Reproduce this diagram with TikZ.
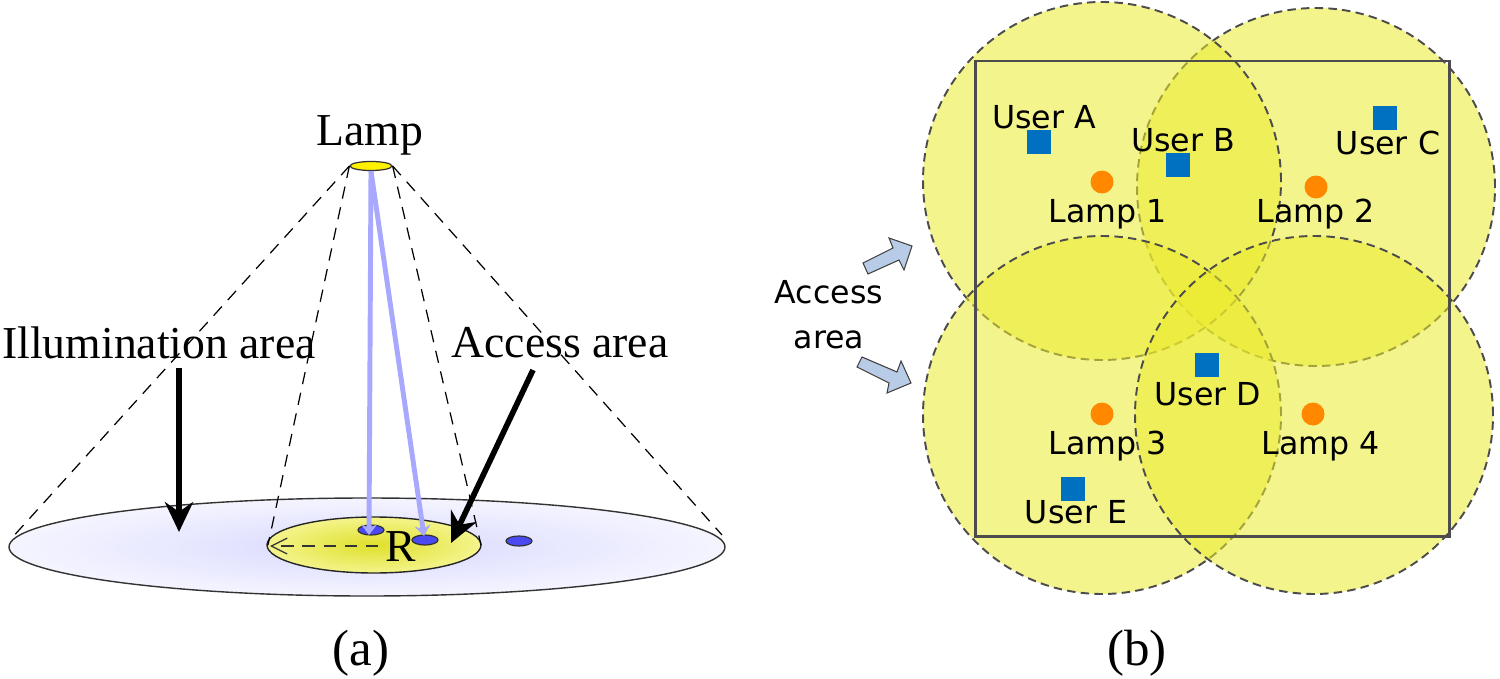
\documentclass[tikz,border=0pt]{standalone}
\usepackage{fontspec}
\setmainfont{Liberation Serif}
\newfontfamily\labelfont{DejaVu Sans}
\usetikzlibrary{positioning,shapes,arrows.meta}
\definecolor{beamblue}{HTML}{A8A8FF}
\definecolor{spotblue}{HTML}{4A4AF0}
\definecolor{cellyellow}{HTML}{EBEB2E}
\definecolor{userblue}{HTML}{0070C0}
\definecolor{lamporange}{HTML}{FF8800}
\definecolor{blockblue}{HTML}{B8CCE8}
\newcommand{\pxunit}{*.02cm}
\tikzset{
  cone/.style={dash pattern=on 7pt off 5pt,line width=.7pt},
  beam/.style={beamblue,line width=2.8pt,-{Stealth[length=6pt,width=9pt]}},
  pointer/.style={black,line width=3.2pt,-{Stealth[length=17pt,width=16pt]}},
  spot/.style={ellipse,draw=black!80,fill=spotblue,line width=.7pt,minimum width=26\pxunit,minimum height=10\pxunit,inner sep=0pt},
  serifnode/.style={font=\fontsize{26}{26}\selectfont,inner sep=0pt},
  capnode/.style={font=\fontsize{29}{29}\selectfont,inner sep=0pt},
  cell/.style={circle,draw=black!70,dash pattern=on 4.8pt off 3pt,line width=1.1pt,fill=cellyellow,fill opacity=.55,minimum size=358\pxunit,inner sep=0pt},
  usernode/.style={rectangle,fill=userblue,minimum size=24\pxunit,inner sep=0pt},
  lampnode/.style={circle,fill=lamporange,minimum size=23\pxunit,inner sep=0pt},
  tag/.style={font=\labelfont\fontsize{18}{18}\selectfont,inner sep=0pt},
  blockarrow/.style={draw=black!75,fill=blockblue,line width=.6pt}
}
\begin{document}
\begin{tikzpicture}[x=.02cm,y=-.02cm]
  \useasboundingbox (0,0) rectangle (1500,679);

  % left part
  \draw[black!80,line width=.8pt,inner color=blue!15!white,outer color=blue!4!white] (367,547) ellipse [x radius=358,y radius=49];
  \draw[black!85,line width=.8pt,inner color=cellyellow!95!black,outer color=cellyellow!55!white] (374,545) ellipse [x radius=107,y radius=28];
  \node[ellipse,draw=black!80,fill=yellow,line width=.7pt,minimum width=42\pxunit,minimum height=9\pxunit,inner sep=0pt] (lamp) at (371,166) {};
  \node[serifnode] (lamplabel) at (370,135) {Lamp};

  \coordinate (coneoutl) at (10,540);
  \coordinate (coneoutr) at (722,535);
  \coordinate (coneinl) at (268,545);
  \coordinate (coneinr) at (481,545);
  \draw[cone] (lamp.west) -- (coneoutl);
  \draw[cone] (lamp.east) -- (coneoutr);
  \draw[cone] (lamp.west) -- (coneinl);
  \draw[cone] (lamp.east) -- (coneinr);

  \node[spot] (spota) at (371,530) {};
  \node[spot] (spotb) at (425,540) {};
  \node[spot] (spotc) at (519,541) {};
  \coordinate (beamtipa) at (369,535);
  \coordinate (beamtipb) at (424,536);
  \draw[beam] (lamp.south) -- (beamtipa);
  \draw[beam] (lamp.south) -- (beamtipb);

  \node[serifnode] (rlabel) at (401,547) {R};
  \coordinate (redge) at (270,546);
  \draw[black!80,line width=.7pt,dash pattern=on 7pt off 5pt,-{Straight Barb[length=9pt,width=9pt]}] (378,546) -- (redge);

  \node[serifnode] (illum) at (159,343) {Illumination area};
  \node[serifnode] (access) at (560,343) {Access area};
  \coordinate (illumtip) at (179,532);
  \coordinate (accesstip) at (451,543);
  \draw[pointer] (179,368) -- (illumtip);
  \draw[pointer] (533,370) -- (accesstip);
  \node[capnode] (capa) at (361,653) {(a)};

  % right part
  \node[cell] (cellb) at (1316,187) {};
  \node[cell] (cella) at (1102,181) {};
  \node[cell] (cellc) at (1102,415) {};
  \node[cell] (celld) at (1314,415) {};
  \draw[black!70,line width=1.7pt] (975,61) rectangle (1449,536);

  \node[usernode] (usera) at (1039,142) {};
  \node[usernode] (userb) at (1178,165) {};
  \node[usernode] (userc) at (1385,118) {};
  \node[usernode] (userd) at (1207,365) {};
  \node[usernode] (usere) at (1073,489) {};
  \node[lampnode] (lampa) at (1102,182) {};
  \node[lampnode] (lampb) at (1316,187) {};
  \node[lampnode] (lampc) at (1102,414) {};
  \node[lampnode] (lampd) at (1313,414) {};

  \node[tag] at (1044,117) (tagusera) {User A};
  \node[tag] at (1183,140) (taguserb) {User B};
  \node[tag] at (1388,143) (taguserc) {User C};
  \node[tag] at (1208,394) (taguserd) {User D};
  \node[tag] at (1076,512) (tagusere) {User E};
  \node[tag] at (1108,214) (taglampa) {Lamp 1};
  \node[tag] at (1316,214) (taglampb) {Lamp 2};
  \node[tag] at (1108,446) (taglampc) {Lamp 3};
  \node[tag] at (1321,446) (taglampd) {Lamp 4};
  \node[tag] at (829,292) (tagaccess) {Access};
  \node[tag] at (829,340) (tagarea) {area};

  \draw[blockarrow] (863,263) -- (868,274) -- (899,260) -- (904,270) -- (912,246) -- (889,238) -- (893,248) -- cycle;
  \draw[blockarrow] (862,357) -- (857,367) -- (889,383) -- (887,393) -- (911,383) -- (901,361) -- (897,372) -- cycle;
  \node[capnode] (capb) at (1137,653) {(b)};
\end{tikzpicture}
\end{document}
